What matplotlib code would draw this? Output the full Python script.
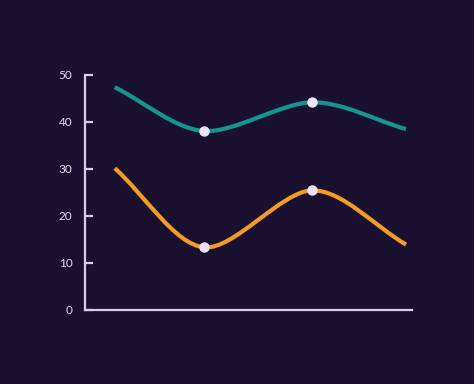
import numpy as np
import matplotlib
matplotlib.use("Agg")
import matplotlib.pyplot as plt
from matplotlib.path import Path
from matplotlib.patches import PathPatch

x_vals = [1.0, 4.0, 7.64, 10.8]
teal_vals = [47.3, 38.0, 44.1, 38.4]
orange_vals = [30.1, 13.3, 25.4, 13.9]
y_ticks = [0, 10, 20, 30, 40, 50]

BG = "#1a1130"
AX = "#d9cde8"
TEAL = "#16958f"
ORANGE = "#f29b27"
MARK = "#eee2f5"

fig = plt.figure(figsize=(4.74, 3.84), dpi=100)
fig.patch.set_facecolor(BG)
ax = fig.add_axes([85/474, 1-310/384, (412-85)/474, (310-74.5)/384])
ax.set_facecolor(BG)
ax.set_xlim(0, 11)
ax.set_ylim(0, 50)

def smooth_path(xs, ys, k=0.15):
    pts = np.column_stack([np.asarray(xs, float), np.asarray(ys, float)])
    n = len(pts)
    verts = [tuple(pts[0])]
    codes = [Path.MOVETO]
    for i in range(n-1):
        if i == 0:
            c1 = pts[0] + (pts[1] - pts[0]) / 3
        else:
            c1 = pts[i] + (pts[i+1] - pts[i-1]) * k
        if i + 1 == n - 1:
            c2 = pts[n-1] - (pts[n-1] - pts[n-2]) / 3
        else:
            c2 = pts[i+1] - (pts[i+2] - pts[i]) * k
        verts += [tuple(c1), tuple(c2), tuple(pts[i+1])]
        codes += [Path.CURVE4]*3
    return Path(verts, codes)

for vals, col in [(teal_vals, TEAL), (orange_vals, ORANGE)]:
    p = smooth_path(x_vals, vals)
    ax.add_patch(PathPatch(p, facecolor="none", edgecolor=col, lw=3.0, capstyle="butt", zorder=2))
    ax.plot(x_vals[1:3], vals[1:3], 'o', ms=7.5, color=MARK, mec="none", zorder=3)

for s in ["top", "right"]:
    ax.spines[s].set_visible(False)
for s in ["left", "bottom"]:
    ax.spines[s].set_color(AX)
    ax.spines[s].set_linewidth(1.6)
ax.set_xticks([])
ax.set_yticks(y_ticks)
ax.tick_params(axis="y", direction="in", length=6, width=1.6, color=AX,
               labelcolor="#e6ddee", labelsize=8.5, pad=9)
for lab in ax.get_yticklabels():
    lab.set_fontfamily("Lato")

fig.savefig("out.png", dpi=100, facecolor=BG)
